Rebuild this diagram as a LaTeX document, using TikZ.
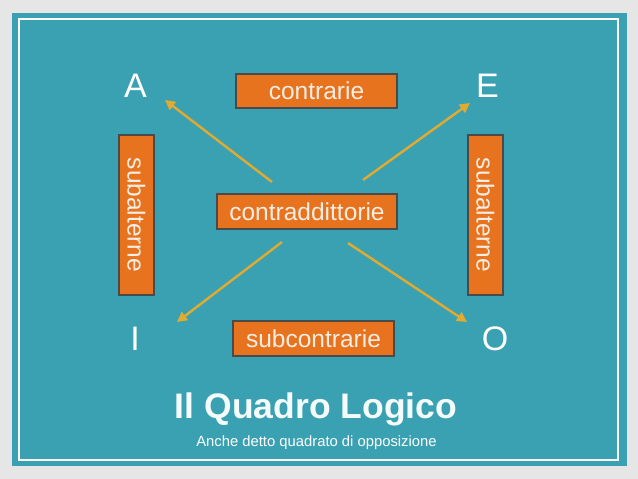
\documentclass[tikz,border=0pt]{standalone}
\usepackage{fontspec}
\setmainfont{Liberation Sans}
\usetikzlibrary{arrows.meta}
\definecolor{bggray}{HTML}{E6E6E6}
\definecolor{teal1}{HTML}{3AA1B3}
\definecolor{orange1}{HTML}{E8731F}
\definecolor{boxline}{HTML}{4A4A48}
\definecolor{gold1}{HTML}{E2AA2E}
\definecolor{cream}{HTML}{F6EEE4}
\tikzset{
  x=1pt, y=-1pt,
  labbox/.style={draw=boxline, line width=1.3pt, fill=orange1, text=cream, inner sep=0pt,
    font=\fontsize{24.5}{28}\selectfont},
  corner/.style={text=white, font=\fontsize{34}{38}\selectfont, inner sep=0pt},
  goldarrow/.style={draw=gold1, line width=2.4pt, -{Triangle[length=10pt,width=10pt]}},
}
\begin{document}
\begin{tikzpicture}
\useasboundingbox (0,0) rectangle (638,479);
\fill[bggray] (0,0) rectangle (638,479);
\fill[teal1] (12,13) rectangle (627,466);
\draw[white, line width=1.3pt] (19,19) rectangle (618,460);

% corner letters
\node[corner] (A) at (135.5,86) {A};
\node[corner] (E) at (487.5,86) {E};
\node[corner] (I) at (135,339) {I};
\node[corner] (O) at (495,339) {O};

% boxes
\node[labbox, minimum width=161pt, minimum height=34pt] (contrarie) at (316.5,91) {contrarie};
\node[labbox, minimum width=180pt, minimum height=35pt] (contrad) at (307,211.5) {contraddittorie};
\node[labbox, minimum width=161pt, minimum height=35pt] (subcontr) at (313.5,338.5) {subcontrarie};
\node[labbox, minimum width=160pt, minimum height=35pt, rotate=-90] (subL) at (136.5,215) {subalterne};
\node[labbox, minimum width=160pt, minimum height=35pt, rotate=-90] (subR) at (485.5,215) {subalterne};

% arrows
\coordinate (sA) at (272,182);
\coordinate (tA) at (165,100);
\coordinate (sE) at (363,180);
\coordinate (tE) at (470,103);
\coordinate (sI) at (282,242);
\coordinate (tI) at (177,322);
\coordinate (sO) at (348,243);
\coordinate (tO) at (467,322);
\draw[goldarrow] (sA) -- (tA);
\draw[goldarrow] (sE) -- (tE);
\draw[goldarrow] (sI) -- (tI);
\draw[goldarrow] (sO) -- (tO);

% titles
\node[text=white!95!teal1, font=\bfseries\fontsize{35.5}{40}\selectfont, inner sep=0pt] (title) at (316,409) {Il Quadro Logico};
\node[text=white, font=\fontsize{14.8}{17}\selectfont, inner sep=0pt] (sub) at (316.5,443) {Anche detto quadrato di opposizione};
\end{tikzpicture}
\end{document}
